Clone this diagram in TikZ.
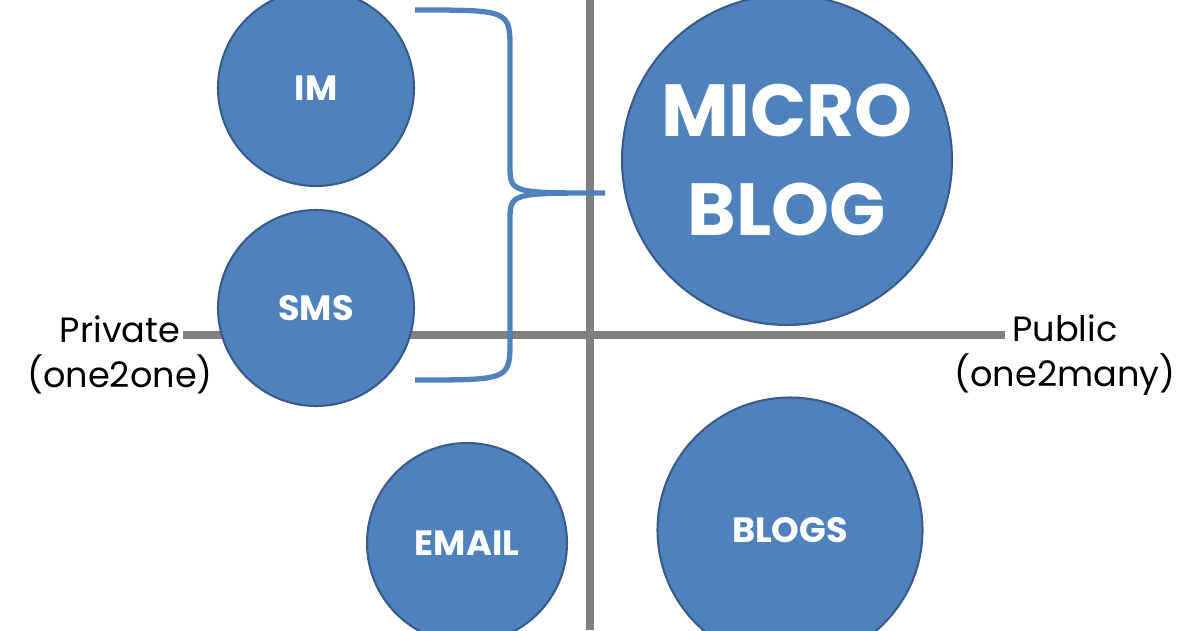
\documentclass[tikz,border=0pt]{standalone}
\usepackage{fontspec}
\setmainfont{Poppins}
\begin{document}
\begin{tikzpicture}[x=0.02cm,y=-0.02cm,
  bub/.style={circle,fill={rgb,255:red,79;green,129;blue,189},draw={rgb,255:red,56;green,93;blue,138},line width=1.2pt,inner sep=0pt,text=white,font=\bfseries,align=center},
  axis/.style={draw={rgb,255:red,128;green,128;blue,128},line width=4.5pt},
  lbl/.style={font=\fontsize{20}{26}\selectfont,align=center,inner sep=0pt}]
\useasboundingbox (0,0) rectangle (1200,630);
\coordinate (vt) at (590,0); \coordinate (vb) at (590,630);
\coordinate (hl) at (183,335); \coordinate (hr) at (1005,335);
\draw[axis] (vt) -- (vb);
\draw[axis] (hl) -- (hr);
\node[bub,minimum size=3.92cm,font=\bfseries\fontsize{20}{24}\selectfont] (im) at (316,88) {IM};
\node[bub,minimum size=3.92cm,font=\bfseries\fontsize{20}{24}\selectfont] (sms) at (316,308) {SMS};
\node[bub,minimum size=4.0cm,font=\bfseries\fontsize{20}{24}\selectfont] (email) at (467,543) {EMAIL};
\node[bub,minimum size=6.6cm,font=\bfseries\fontsize{42}{56}\selectfont] (micro) at (787,160) {MICRO\\BLOG};
\node[bub,minimum size=5.3cm,font=\bfseries\fontsize{20}{24}\selectfont] (blogs) at (790,530) {BLOGS};
\node[lbl] (priv) at (120,355) {Private\\(one2one)};
\node[lbl] (pub) at (1065,355) {Public\\(one2many)};
\coordinate (b1) at (415,10); \coordinate (bt) at (605,193); \coordinate (b2) at (415,380);
\draw[draw={rgb,255:red,79;green,129;blue,189},line width=3pt]
  (b1) .. controls (510,10) .. (510,50) -- (510,165) .. controls (510,193) .. (bt)
  .. controls (510,193) .. (510,221) -- (510,340) .. controls (510,380) .. (b2);
\end{tikzpicture}
\end{document}
